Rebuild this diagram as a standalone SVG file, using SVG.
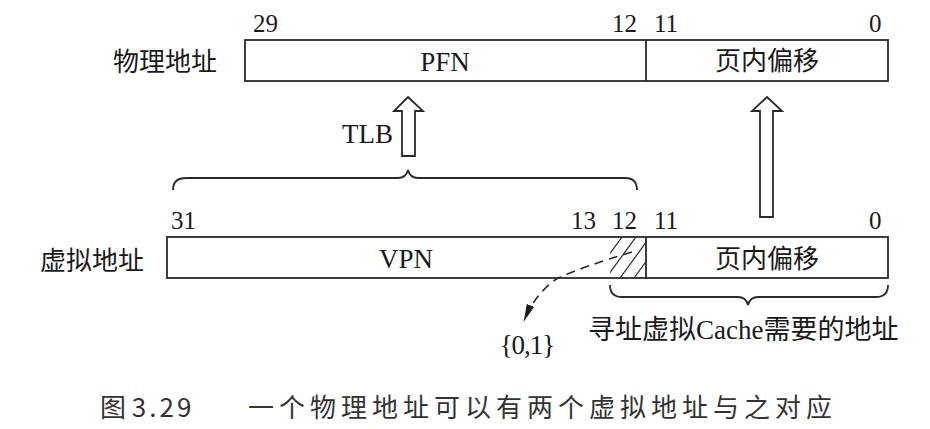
<svg xmlns="http://www.w3.org/2000/svg" width="930" height="429" viewBox="0 0 930 429">
<style>
.box{fill:#fff;stroke:#2a2a2a;stroke-width:1.8}
.ln{fill:none;stroke:#2a2a2a;stroke-width:1.8}
.num{font-family:"Liberation Serif","Times New Roman",serif;font-size:25px;fill:#1a1a1a}
.lat{font-family:"Liberation Serif","Times New Roman",serif;font-size:27px;fill:#1a1a1a}
.cn{font-family:"Noto Sans CJK SC","Noto Sans CJK JP",sans-serif;font-size:26px;fill:#1a1a1a}
.cap{font-family:"Noto Sans CJK SC","Noto Sans CJK JP",sans-serif;font-size:26px;fill:#333}
.hatch{stroke:#2a2a2a;stroke-width:1.2}
</style>
<defs>
<marker id="ah" viewBox="0 0 16 8" refX="15" refY="4" markerWidth="18" markerHeight="9" markerUnits="userSpaceOnUse" orient="auto">
<path d="M0,0.5 L16,4 L0,7.5 Z" fill="#1a1a1a"/>
</marker>
<clipPath id="hc"><rect x="610" y="237" width="37" height="41"/></clipPath>
</defs>
<rect width="930" height="429" fill="#fff"/>

<g id="physical">
<text class="cn" x="113" y="71">物理地址</text>
<rect class="box" x="245" y="40" width="643" height="41"/>
<line class="ln" x1="646" y1="40" x2="646" y2="81"/>
<text class="num" x="253" y="32">29</text>
<text class="num" x="612" y="32">12</text>
<text class="num" x="654" y="32">11</text>
<text class="num" x="869" y="32">0</text>
<text class="lat" x="445" y="71" text-anchor="middle">PFN</text>
<text class="cn" x="767" y="70" text-anchor="middle">页内偏移</text>
</g>

<g id="virtual">
<text class="cn" x="40" y="270">虚拟地址</text>
<rect class="box" x="167" y="237" width="721" height="41"/>
<g clip-path="url(#hc)">
<line class="hatch" x1="592" y1="278" x2="622" y2="237"/>
<line class="hatch" x1="606" y1="278" x2="636" y2="237"/>
<line class="hatch" x1="620" y1="278" x2="650" y2="237"/>
<line class="hatch" x1="634" y1="278" x2="664" y2="237"/>
</g>
<line class="ln" x1="646" y1="237" x2="646" y2="278"/>
<text class="num" x="171" y="229">31</text>
<text class="num" x="571" y="229">13</text>
<text class="num" x="612" y="229">12</text>
<text class="num" x="654" y="229">11</text>
<text class="num" x="869" y="229">0</text>
<text class="lat" x="406" y="268" text-anchor="middle">VPN</text>
<text class="cn" x="767" y="268" text-anchor="middle">页内偏移</text>
</g>

<g id="tlb">
<path class="ln" d="M408,97 L423,111 L415,111 L415,156 L402,156 L402,111 L394,111 Z"/>
<text class="lat" x="393" y="143" text-anchor="end">TLB</text>
</g>

<g id="offset-arrow">
<path class="ln" d="M767,97 L782,111 L773,111 L773,217 L760,217 L760,111 L752,111 Z"/>
</g>

<g id="connectors">
<path class="ln" d="M173,190 Q173,178 186,178 L398,178 Q406,178 408,170 Q410,178 418,178 L625,178 Q637,178 637,190"/>
<path class="ln" d="M610,285 Q610,297 622,297 L738,297 Q746,297 748,305 Q750,297 758,297 L876,297 Q888,297 888,285"/>
<path d="M632,252 Q585,266 558,278 Q536,292 524,321" fill="none" stroke="#2a2a2a" stroke-width="1.6" stroke-dasharray="9,6" marker-end="url(#ah)"/>
</g>

<g id="labels">
<text x="527" y="354" text-anchor="middle" style="font-family:'Liberation Serif','Times New Roman',serif;font-size:27px;fill:#1a1a1a" letter-spacing="-1">{0,1}</text>
<text class="cn" x="588" y="339" style="font-size:27px">寻址虚拟<tspan font-family="Liberation Serif,serif">Cache</tspan>需要的地址</text>
</g>

<g id="caption">
<text class="cap" x="100" y="417">图 <tspan letter-spacing="3">3.29</tspan></text>
<text class="cap" x="248" y="417" letter-spacing="5">一个物理地址可以有两个虚拟地址与之对应</text>
</g>
</svg>
